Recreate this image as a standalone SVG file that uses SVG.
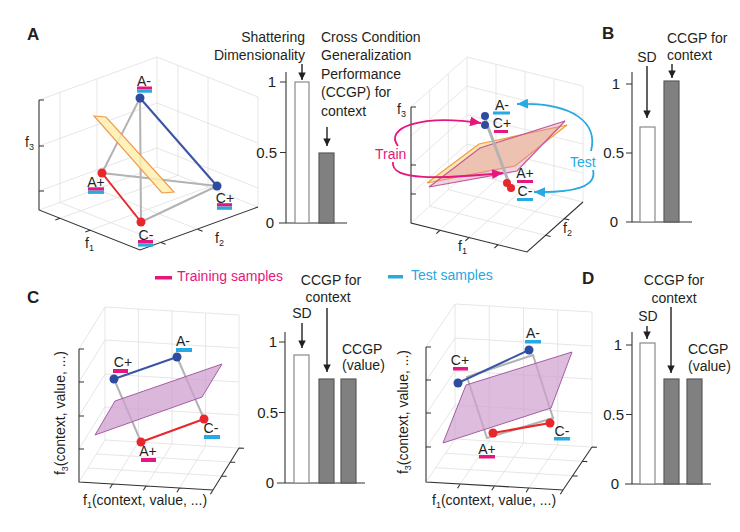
<svg xmlns="http://www.w3.org/2000/svg" width="740" height="532" viewBox="0 0 740 532">
<defs>
<style>
text{font-family:"Liberation Sans",Arial,sans-serif;fill:#231f20;font-size:14px}
.pl{font-weight:bold;font-size:17px}
.grid{stroke:#e0e0e0;stroke-width:0.8;fill:none}
.ax{stroke:#333;stroke-width:1.1;fill:none}
.g{stroke:#b3b3b3;stroke-width:2;fill:none}
.bl{stroke:#3b55a4;stroke-width:2}
.rd{stroke:#e8262b;stroke-width:2}
.db{fill:#2e4c9f}
.dr{fill:#e8262b}
.pk{fill:#e5177e}
.cy{fill:#27a9e1}
.bw{fill:#fff;stroke:#8a8a8a;stroke-width:1.2}
.bg{fill:#808080;stroke:#5a5a5a;stroke-width:1.2}
.arr{stroke:#231f20;stroke-width:1.4;fill:none;marker-end:url(#ah)}
.c{text-anchor:middle}
.e{text-anchor:end}
.tk{font-size:15px}
.sub{font-size:9px}
</style>
<marker id="ah" viewBox="0 0 10 10" refX="10" refY="5" markerWidth="8" markerHeight="7.5" orient="auto" markerUnits="userSpaceOnUse"><path d="M0,0L10,5L0,10z" fill="#231f20"/></marker>
<marker id="apk" viewBox="0 0 10 9" refX="10" refY="4.5" markerWidth="11" markerHeight="10" orient="auto" markerUnits="userSpaceOnUse"><path d="M0,0L10,4.5L0,9z" fill="#e5177e"/></marker>
<marker id="acy" viewBox="0 0 10 9" refX="10" refY="4.5" markerWidth="11" markerHeight="10" orient="auto" markerUnits="userSpaceOnUse"><path d="M0,0L10,4.5L0,9z" fill="#27a9e1"/></marker>
</defs>
<rect width="740" height="532" fill="#fff"/>

<!-- Panel A left 3D -->
<g id="panelA-3d">
<text class="pl" x="27" y="40">A</text>
<path class="grid" d="M60,202.5V92.5M97,189.4V79.4M178,175.3V65.3M208,187.2V77.2M157,167V57M258,207V97M39,100L157,57L258,97M39,191L157,148L258,188M39,146L157,103L258,143M39,210L157,167L258,207M60,202.5L161,242.5M97,189.4L198,229.4M178,175.3L60,218.3M208,187.2L90,230.2"/>
<path class="ax" d="M39,100V210L140,250L258,207M39,100h5M39,146h5M39,191h5M60,218.3l-4.7,1.7M90,230.2l-4.7,1.7M161,242.5l4.6,1.8M198,229.4l4.6,1.8"/>
<text x="25" y="147">f<tspan class="sub" dy="3">3</tspan></text>
<text x="85" y="248">f<tspan class="sub" dy="3">1</tspan></text>
<text x="215" y="243">f<tspan class="sub" dy="3">2</tspan></text>
</g>
<g id="connectors-A">
<path class="g" d="M140,98L141,222M140,98L102,173M102,173L217,186M141,222L217,186"/>
<path class="bl" d="M140,98L217,186"/>
<path class="rd" d="M102,173L141,222"/>
<polygon points="94,116 106,117 174,192 162,193" fill="#fdf0b0" fill-opacity="0.85" stroke="#f09a48" stroke-width="1.2"/>
</g>
<g id="A-Aminus"><circle class="db" cx="140" cy="98" r="4.5"/><text class="c" x="144" y="86">A-</text><rect class="pk" x="137" y="86.5" width="15" height="3"/><rect class="cy" x="137" y="89.5" width="15" height="3.2"/></g>
<g id="A-Aplus"><circle class="dr" cx="102" cy="173" r="4.5"/><text class="c" x="96" y="186.5">A+</text><rect class="pk" x="88" y="187.3" width="16" height="3.3"/><rect class="cy" x="88" y="190.6" width="16" height="3.3"/></g>
<g id="A-Cplus"><circle class="db" cx="217" cy="186" r="4.5"/><text class="c" x="225" y="202.5">C+</text><rect class="pk" x="217" y="203.2" width="15" height="3.3"/><rect class="cy" x="217" y="206.5" width="15" height="3.3"/></g>
<g id="A-Cminus"><circle class="dr" cx="141" cy="222" r="4.5"/><text class="c" x="146" y="240">C-</text><rect class="pk" x="138" y="240" width="15" height="3.3"/><rect class="cy" x="138" y="243.3" width="15" height="3.3"/></g>

<!-- Panel A bar chart -->
<g id="panelA-bars">
<text class="e" x="305" y="42">Shattering</text>
<text class="e" x="305" y="60">Dimensionality</text>
<text x="321" y="42">Cross Condition</text>
<text x="321" y="60">Generalization</text>
<text x="321" y="79">Performance</text>
<text x="321" y="97">(CCGP) for</text>
<text x="321" y="116">context</text>
<path class="ax" d="M286,72V223M279,223H347M280,82h6M280,152.5h6"/>
<text class="e tk" x="276" y="87">1</text>
<text class="e tk" x="277" y="158">0.5</text>
<text class="e tk" x="274" y="228">0</text>
<rect class="bw" x="295" y="82" width="14" height="141"/>
<rect class="bg" x="319" y="153" width="15" height="70"/>
<path class="arr" d="M302,64V80"/>
<path class="arr" d="M327,127V146"/>
</g>

<!-- Panel A right 3D -->
<g id="panelA-3d-right">
<path class="grid" d="M429.7,206.3V90.3M448.3,189.7V73.7M467,173V57M496,180.25V64.25M525,187.5V71.5M554,194.75V78.75M583,202V86M411,107L467,57L583,86M411,194L467,144L583,173M411,165L467,115L583,144M411,136L467,86L583,115M411,223L467,173L583,202M429.7,206.3L545.7,235.3M448.3,189.7L564.3,218.7M496,180.25L440,230.25M525,187.5L469,237.5M554,194.75L498,244.75"/>
<path class="ax" d="M411,107V223L527,252L583,202M411,107h5M411,165h5M411,194h5M440,230.25l-3.7,3.3M469,237.5l-3.7,3.3M498,244.75l-3.7,3.3M545.7,235.3l4.85,1.2M564.3,218.7l4.85,1.2"/>
<text x="397" y="114">f<tspan class="sub" dy="3">3</tspan></text>
<text x="458" y="251">f<tspan class="sub" dy="3">1</tspan></text>
<text x="563" y="233">f<tspan class="sub" dy="3">2</tspan></text>
</g>
<g id="connectors-A-right">
<polygon points="427,183 479,144 567,125 515,166" fill="#fbe2a6" fill-opacity="0.85" stroke="#f39c3c" stroke-width="1.2"/>
<polygon points="429,187 480,148 565,121 517,171" fill="#d47fae" fill-opacity="0.35" stroke="#c4579a" stroke-width="1.2"/>
<path d="M485,119L510,186" stroke="#b3b3b3" stroke-width="3" fill="none"/>
<path d="M398,146C384,128 420,114 481,123" stroke="#e5177e" stroke-width="1.8" fill="none" marker-end="url(#apk)"/>
<path d="M393,162C390,181 440,179 503,173" stroke="#e5177e" stroke-width="1.8" fill="none" marker-end="url(#apk)"/>
<path d="M591,151C598,124 575,102 517,104" stroke="#27a9e1" stroke-width="1.8" fill="none" marker-end="url(#acy)"/>
<path d="M593,170C597,186 576,193 534,192" stroke="#27a9e1" stroke-width="1.8" fill="none" marker-end="url(#acy)"/>
<text x="375" y="159" style="fill:#e5177e">Train</text>
<text x="570" y="167" style="fill:#27a9e1">Test</text>
</g>
<g id="A2-Aminus"><circle class="db" cx="485" cy="116" r="4"/><text class="c" x="502" y="110">A-</text><rect class="cy" x="493" y="111.5" width="17" height="3"/></g>
<g id="A2-Cplus"><circle class="db" cx="485" cy="125" r="4"/><text class="c" x="502" y="128">C+</text><rect class="pk" x="494" y="130" width="14" height="3"/></g>
<g id="A2-Aplus"><circle class="dr" cx="507" cy="183" r="4"/><text class="c" x="525" y="178">A+</text><rect class="pk" x="517" y="180" width="16" height="3"/></g>
<g id="A2-Cminus"><circle class="dr" cx="511" cy="188" r="4"/><text class="c" x="525" y="196">C-</text><rect class="cy" x="517" y="198" width="16" height="3"/></g>

<!-- Panel B -->
<g id="panelB">
<text class="pl" x="602" y="39">B</text>
<text class="c" x="647" y="62">SD</text>
<text x="667" y="43">CCGP for</text>
<text x="667" y="60">context</text>
<path class="ax" d="M632,72V222M626,222H692M626,84h6M626,153h6"/>
<text class="e tk" x="620" y="89">1</text>
<text class="e tk" x="624" y="158">0.5</text>
<text class="e tk" x="618" y="227">0</text>
<rect class="bw" x="640" y="127" width="15" height="95"/>
<rect class="bg" x="664" y="81" width="15" height="141"/>
<path class="arr" d="M647,66V118"/>
<path class="arr" d="M672,64V78"/>
</g>

<!-- Legend -->
<g id="legend">
<rect class="pk" x="155" y="276" width="17" height="3.5"/>
<text x="177" y="281" style="fill:#e5177e">Training samples</text>
<rect class="cy" x="388" y="275" width="15" height="3.5"/>
<text x="411" y="280" style="fill:#27a9e1">Test samples</text>
</g>

<!-- Panel C left 3D -->
<g id="panelC-3d">
<text class="pl" x="27" y="303">C</text>
<path class="grid" d="M105,440V307M239,448V315M105,307L239,315M79,349L105,307M138.5,442V309M172,444V311M205.5,446V313M105,407L239,415M105,374L239,382M105,340L239,348M79,449L105,407M79,416L105,374M79,382L105,340M79,482L105,440L239,448M112.5,484L138.5,442M146,486L172,444M179.5,488L205.5,446M87.7,468L221.7,476M96.3,454L230.3,462"/>
<path class="ax" d="M79,349V482L213,490L239,448M79,349h5M79,382h5M79,416h5M79,449h5M112.5,484l-2.6,4.2M146,486l-2.6,4.2M179.5,488l-2.6,4.2M213,490l-2.6,4.2M221.7,476l5,0.3M230.3,462l5,0.3M239,448l5,0.3"/>
<text class="c" transform="translate(65,413) rotate(-90)">f<tspan class="sub" dy="3">3</tspan><tspan dy="-3">(context, value, ...)</tspan></text>
<text x="83" y="505">f<tspan class="sub" dy="3">1</tspan><tspan dy="-3">(context, value, ...)</tspan></text>
</g>
<g id="connectors-C">
<path class="g" d="M114,379L141,442M177,357L204,419"/>
<polygon points="95,435 115,401 222,364 202,397" fill="#cfa0cf" fill-opacity="0.75" stroke="#a45ea4" stroke-width="1"/>
<path class="bl" d="M114,379L177,357"/>
<path class="rd" d="M141,442L204,419"/>
</g>
<g id="C-Cplus"><circle class="db" cx="114" cy="379" r="4.5"/><text class="c" x="123" y="367">C+</text><rect class="pk" x="113" y="369" width="15" height="4"/></g>
<g id="C-Aminus"><circle class="db" cx="177" cy="357" r="4.5"/><text class="c" x="183" y="346">A-</text><rect class="cy" x="176" y="348" width="16" height="4"/></g>
<g id="C-Cminus"><circle class="dr" cx="204" cy="419" r="4.5"/><text class="c" x="211" y="433">C-</text><rect class="cy" x="204" y="435" width="16" height="4"/></g>
<g id="C-Aplus"><circle class="dr" cx="141" cy="442" r="4.5"/><text class="c" x="148" y="456">A+</text><rect class="pk" x="141" y="458" width="15" height="4"/></g>

<!-- Panel C bars -->
<g id="panelC-bars">
<text class="c" x="331" y="285">CCGP for</text>
<text class="c" x="328" y="302">context</text>
<text class="c" x="302" y="318">SD</text>
<text x="342" y="354">CCGP</text>
<text x="342" y="370">(value)</text>
<path class="ax" d="M285,332V483M277,483H365M279,342h6M279,412.5h6"/>
<text class="e tk" x="277" y="347">1</text>
<text class="e tk" x="278" y="418">0.5</text>
<text class="e tk" x="274" y="488">0</text>
<rect class="bw" x="294" y="355" width="15" height="128"/>
<rect class="bg" x="319" y="379" width="15" height="104"/>
<rect class="bg" x="341" y="379" width="15" height="104"/>
<path class="arr" d="M302,323V348"/>
<path class="arr" d="M327,308V372"/>
</g>

<!-- Panel C right 3D -->
<g id="panelC-3d-right">
<path class="grid" d="M455,439V304M592,447V312M455,304L592,312M426,347L455,304M489.25,441V306M523.5,443V308M557.75,445V310M455,405L592,413M455,371L592,379M455,338L592,346M426,448L455,405M426,414L455,371M426,381L455,338M426,482L455,439L592,447M460.25,484L489.25,441M494.5,486L523.5,443M528.75,488L557.75,445M435.7,467.7L572.7,475.7M445.3,453.3L582.3,461.3"/>
<path class="ax" d="M426,347V482L563,490L592,447M426,347h5M426,380h5M426,413h5M426,447h5M460.25,484l-2.7,4.2M494.5,486l-2.7,4.2M528.75,488l-2.7,4.2M563,490l-2.7,4.2M572.7,475.7l5,0.3M582.3,461.3l5,0.3M592,447l5,0.3"/>
<text class="c" transform="translate(408,412) rotate(-90)">f<tspan class="sub" dy="3">3</tspan><tspan dy="-3">(context, value, ...)</tspan></text>
<text x="432" y="505">f<tspan class="sub" dy="3">1</tspan><tspan dy="-3">(context, value, ...)</tspan></text>
</g>
<g id="connectors-C-right">
<polygon points="467,377 533,355 553,418 487,438" fill="none" stroke="#b3b3b3" stroke-width="2"/>
<polygon points="443,443 466,385 572,352 551,408" fill="#cfa0cf" fill-opacity="0.7" stroke="#a45ea4" stroke-width="1"/>
<path class="bl" d="M458,383L529,350"/>
<path class="rd" d="M493,433L550,423"/>
</g>
<g id="C2-Cplus"><circle class="db" cx="458" cy="383" r="4.5"/><text class="c" x="460" y="365">C+</text><rect class="pk" x="453" y="367" width="15" height="3.5"/></g>
<g id="C2-Aminus"><circle class="db" cx="529" cy="350" r="4.5"/><text class="c" x="533" y="338">A-</text><rect class="cy" x="525" y="340" width="16" height="3.5"/></g>
<g id="C2-Cminus"><circle class="dr" cx="550" cy="423" r="4.5"/><text class="c" x="562" y="436">C-</text><rect class="cy" x="554" y="437" width="16" height="3.5"/></g>
<g id="C2-Aplus"><circle class="dr" cx="493" cy="433" r="4.5"/><text class="c" x="487" y="454">A+</text><rect class="pk" x="479" y="455" width="16" height="3.5"/></g>

<!-- Panel D -->
<g id="panelD">
<text class="pl" x="582" y="284">D</text>
<text class="c" x="674" y="285">CCGP for</text>
<text class="c" x="674" y="303">context</text>
<text class="c" x="648" y="321">SD</text>
<text x="688" y="354">CCGP</text>
<text x="688" y="371">(value)</text>
<path class="ax" d="M632,332V484M625,484H711M626,345h6M626,414.5h6"/>
<text class="e tk" x="622" y="350">1</text>
<text class="e tk" x="624" y="420">0.5</text>
<text class="e tk" x="619" y="489">0</text>
<rect class="bw" x="640" y="343" width="15" height="141"/>
<rect class="bg" x="664" y="379" width="15" height="105"/>
<rect class="bg" x="687" y="379" width="15" height="105"/>
<path class="arr" d="M647,326V339"/>
<path class="arr" d="M671,307V373"/>
</g>
</svg>
